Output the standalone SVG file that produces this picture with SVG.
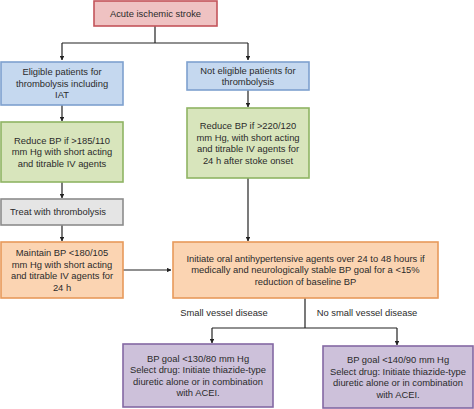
<svg xmlns="http://www.w3.org/2000/svg" width="474" height="409" viewBox="0 0 474 409">
<defs>
<marker id="ah" viewBox="0 0 6 6" refX="5.5" refY="3" markerWidth="4.5" markerHeight="4.5" markerUnits="userSpaceOnUse" orient="auto"><path d="M0,0 L6,3 L0,6 Z" fill="#222"/></marker>
<style>
.t{font-family:"Liberation Sans",Arial,sans-serif;font-size:9.4px;fill:#2b2b2b;text-anchor:middle}
.red{fill:#efc2c2;stroke:#c3545a;stroke-width:1.6}
.blue{fill:#c5d8ef;stroke:#7ea1cf;stroke-width:1.6}
.green{fill:#d8e5bc;stroke:#8fb463;stroke-width:1.6}
.gray{fill:#e5e5e5;stroke:#8c8c8c;stroke-width:1.6}
.orange{fill:#fbd4b2;stroke:#e8995a;stroke-width:1.6}
.purple{fill:#cdc1da;stroke:#8468a3;stroke-width:1.6}
.c{fill:none;stroke:#222;stroke-width:1.2}
</style>
</defs>
<rect width="474" height="409" fill="#fff"/>
<g id="connectors">
<path class="c" d="M155,26 V43 M62,43 H248"/>
<path class="c" d="M62,43 V60" marker-end="url(#ah)"/>
<path class="c" d="M248,43 V60" marker-end="url(#ah)"/>
<path class="c" d="M62,105 V121" marker-end="url(#ah)"/>
<path class="c" d="M248,90 V107" marker-end="url(#ah)"/>
<path class="c" d="M62,182 V198" marker-end="url(#ah)"/>
<path class="c" d="M62,225 V241" marker-end="url(#ah)"/>
<path class="c" d="M123,270 H171" marker-end="url(#ah)"/>
<path class="c" d="M248,178 V241" marker-end="url(#ah)"/>
<path class="c" d="M305,298 V328 M212,328 H397"/>
<path class="c" d="M212,328 V343" marker-end="url(#ah)"/>
<path class="c" d="M397,328 V345" marker-end="url(#ah)"/>
<text class="t" x="224" y="316">Small vessel disease</text>
<text class="t" x="367" y="316">No small vessel disease</text>
</g>
<g id="stroke">
<rect class="red" x="94" y="1" width="123" height="25"/>
<text class="t" x="155.5" y="16.8">Acute ischemic stroke</text>
</g>
<g id="eligible">
<rect class="blue" x="1" y="62" width="122" height="43"/>
<text class="t" x="62" y="75.3">Eligible patients for</text>
<text class="t" x="62" y="86.8">thrombolysis including</text>
<text class="t" x="62" y="98.3">IAT</text>
</g>
<g id="noteligible">
<rect class="blue" x="187" y="62" width="122" height="28"/>
<text class="t" x="248" y="73.5">Not eligible patients for</text>
<text class="t" x="248" y="85">thrombolysis</text>
</g>
<g id="reduce185">
<rect class="green" x="1" y="122" width="122" height="60"/>
<text class="t" x="62" y="143.8">Reduce BP if &gt;185/110</text>
<text class="t" x="62" y="155.3">mm Hg with short acting</text>
<text class="t" x="62" y="166.8">and titrable IV agents</text>
</g>
<g id="reduce220">
<rect class="green" x="187" y="108" width="122" height="70"/>
<text class="t" x="248" y="129">Reduce BP if &gt;220/120</text>
<text class="t" x="248" y="140.5">mm Hg, with short acting</text>
<text class="t" x="248" y="152">and titrable IV agents for</text>
<text class="t" x="248" y="163.5">24 h after stoke onset</text>
</g>
<g id="treat">
<rect class="gray" x="1" y="199" width="122" height="26"/>
<text class="t" x="58" y="215.3">Treat with thrombolysis</text>
</g>
<g id="maintain">
<rect class="orange" x="1" y="242" width="122" height="56"/>
<text class="t" x="62" y="256">Maintain BP &lt;180/105</text>
<text class="t" x="62" y="267.5">mm Hg with short acting</text>
<text class="t" x="62" y="279">and titrable IV agents for</text>
<text class="t" x="62" y="290.5">24 h</text>
</g>
<g id="initiate">
<rect class="orange" x="173" y="242" width="265" height="56"/>
<text class="t" x="305.5" y="261.8">Initiate oral antihypertensive agents over 24 to 48 hours if</text>
<text class="t" x="305.5" y="273.3">medically and neurologically stable BP goal for  a &lt;15%</text>
<text class="t" x="305.5" y="284.8">reduction of baseline BP</text>
</g>
<g id="svd">
<rect class="purple" x="123" y="344" width="150" height="63"/>
<text class="t" x="198" y="361.5">BP goal &lt;130/80 mm Hg</text>
<text class="t" x="198" y="373">Select drug: Initiate thiazide-type</text>
<text class="t" x="198" y="384.5">diuretic alone or in combination</text>
<text class="t" x="198" y="396">with ACEI.</text>
</g>
<g id="nosvd">
<rect class="purple" x="323" y="346" width="150" height="62"/>
<text class="t" x="398" y="363">BP goal &lt;140/90 mm Hg</text>
<text class="t" x="398" y="374.5">Select drug: Initiate thiazide-type</text>
<text class="t" x="398" y="386">diuretic alone or in combination</text>
<text class="t" x="398" y="397.5">with ACEI.</text>
</g>
</svg>
